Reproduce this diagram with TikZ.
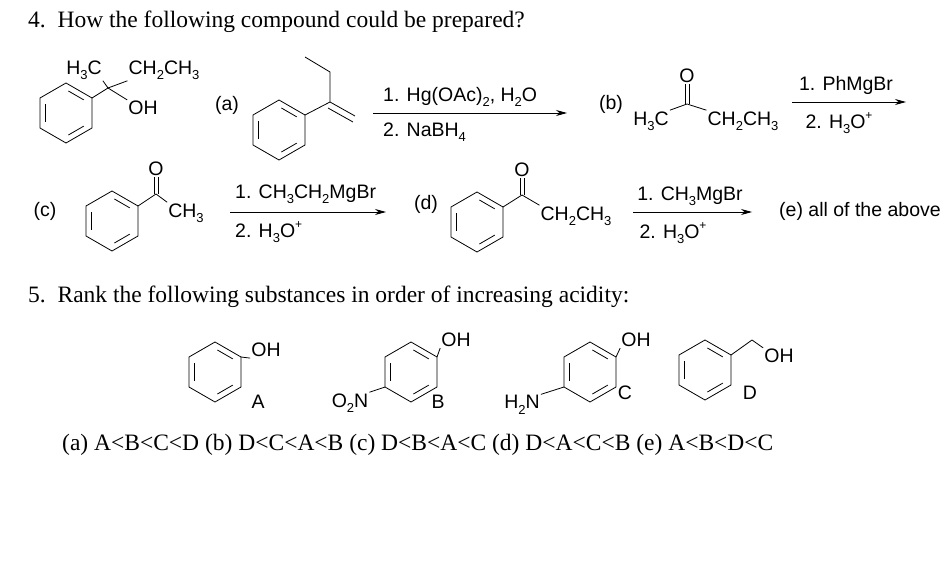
\documentclass[tikz,border=0pt]{standalone}
\usepackage{fontspec}
\setmainfont{Liberation Serif}
\newfontfamily\arial{Liberation Sans}
\usetikzlibrary{calc,arrows.meta}
\newcommand\sbs[1]{\raisebox{-0.28em}{\fontsize{13}{13}\selectfont #1}}
\newcommand\sps[1]{\raisebox{0.45em}{\fontsize{12}{12}\selectfont #1}}
\tikzset{
  bond/.style={line width=0.8pt},
  chem/.style={font=\arial\fontsize{19.5}{22}\selectfont, inner sep=1pt},
  ttl/.style={font=\fontsize{23.5}{26}\selectfont, anchor=west, inner sep=0pt},
  rxn/.style={line width=0.8pt,-{Stealth[length=11pt,width=6pt]}}
}
\newcommand\bz[3]{% name, x, y
  \coordinate (#1) at (#2,#3);
  \draw[bond] ($(#1)+(0,-30)$) -- ($(#1)+(26,-15)$) -- ($(#1)+(26,15)$) -- ($(#1)+(0,30)$) -- ($(#1)+(-26,15)$) -- ($(#1)+(-26,-15)$) -- cycle;
  \draw[bond] ($(#1)+(2.4,-22)$) -- ($(#1)+(17.8,-13.1)$);
  \draw[bond] ($(#1)+(17.8,13.1)$) -- ($(#1)+(2.4,22)$);
  \draw[bond] ($(#1)+(-20.3,8.9)$) -- ($(#1)+(-20.3,-8.9)$);
  \coordinate (#1ur) at ($(#1)+(26,-15)$);
  \coordinate (#1ll) at ($(#1)+(-26,15)$);
}
\begin{document}
\begin{tikzpicture}[x=1pt,y=-1pt]
\useasboundingbox (0,0) rectangle (952,577);
\fill[white] (0,0) rectangle (952,577);
\node[ttl] (t4) at (28,22) {4.\ \ How the following compound could be prepared?};
% target
\bz{r0}{66}{113}
\coordinate (q) at (108,88);
\node[chem] (h3c0) at (84,70) {H\sbs{3}C};
\node[chem] (et0) at (164,70) {CH\sbs{2}CH\sbs{3}};
\node[chem] (oh0) at (143,108) {OH};
\draw[bond] (r0ur) -- (q) -- (h3c0.south east);
\draw[bond] (q) -- (et0.south west);
\draw[bond] (q) -- (oh0.north west);
% (a)
\node[chem] (la) at (227,105) {(a)};
\bz{r1}{279}{130}
\coordinate (a1) at (330,102);
\coordinate (a2) at (330,72);
\coordinate (a3) at (305,57);
\draw[bond] (r1ur) -- (a1) -- (a2) -- (a3);
\draw[bond] (a1) -- (355,116);
\draw[bond] ($(a1)+(-2,6)$) -- ($(355,116)+(-2,6)$);
\coordinate (ar1s) at (373,113); \coordinate (ar1e) at (567,113);
\draw[rxn] (ar1s) -- (ar1e);
\node[chem,anchor=west] (ra1) at (382,97) {1. Hg(OAc)\sbs{2}, H\sbs{2}O};
\node[chem,anchor=west] (ra2) at (382,132) {2. NaBH\sbs{4}};
% (b)
\node[chem] (lb) at (611,104) {(b)};
\node[chem] (h3cb) at (651,121) {H\sbs{3}C};
\node[chem] (etb) at (743,121) {CH\sbs{2}CH\sbs{3}};
\node[chem] (ob) at (687,76) {O};
\coordinate (cb) at (687,104);
\draw[bond] (h3cb.north east) -- (cb) -- (etb.north west);
\draw[bond] ($(cb)+(-2,0)$) -- ($(ob.south)+(-2,0)$);
\draw[bond] ($(cb)+(2,0)$) -- ($(ob.south)+(2,0)$);
\coordinate (ar2s) at (792,102); \coordinate (ar2e) at (906,102);
\draw[rxn] (ar2s) -- (ar2e);
\node[chem] (rb1) at (846,85) {1. PhMgBr};
\node[chem] (rb2) at (839,123) {2. H\sbs{3}O\sps{+}};
% (c)
\node[chem] (lc) at (45,211) {(c)};
\bz{r2}{112}{221}
\coordinate (cc) at (156,194);
\node[chem] (oc) at (156,169) {O};
\node[chem] (mec) at (186,213) {CH\sbs{3}};
\draw[bond] (r2ur) -- (cc) -- (mec.north west);
\draw[bond] ($(cc)+(-2,0)$) -- ($(oc.south)+(-2,0)$);
\draw[bond] ($(cc)+(2,0)$) -- ($(oc.south)+(2,0)$);
\coordinate (ar3s) at (230,212); \coordinate (ar3e) at (386,212);
\draw[rxn] (ar3s) -- (ar3e);
\node[chem,anchor=west] (rc1) at (234,194) {1. CH\sbs{3}CH\sbs{2}MgBr};
\node[chem,anchor=west] (rc2) at (234,232) {2. H\sbs{3}O\sps{+}};
% (d)
\node[chem] (ld) at (426,204) {(d)};
\bz{r3}{477}{222}
\coordinate (cd) at (522,195);
\node[chem] (od) at (522,170) {O};
\node[chem] (etd) at (576,216) {CH\sbs{2}CH\sbs{3}};
\draw[bond] (r3ur) -- (cd) -- (etd.north west);
\draw[bond] ($(cd)+(-2,0)$) -- ($(od.south)+(-2,0)$);
\draw[bond] ($(cd)+(2,0)$) -- ($(od.south)+(2,0)$);
\coordinate (ar4s) at (633,212); \coordinate (ar4e) at (752,212);
\draw[rxn] (ar4s) -- (ar4e);
\node[chem] (rd1) at (690,196) {1. CH\sbs{3}MgBr};
\node[chem] (rd2) at (673,233) {2. H\sbs{3}O\sps{+}};
\node[chem,anchor=west] (le) at (778,211) {(e) all of the above};
% 5
\node[ttl] (t5) at (28,297) {5.\ \ Rank the following substances in order of increasing acidity:};
\bz{rA}{215}{372}
\node[chem] (ohA) at (266,350) {OH};
\draw[bond] (rAur) -- (ohA.south west);
\node[chem] (lA) at (258,402) {A};
\bz{rB}{411}{372}
\node[chem] (ohB) at (456,340) {OH};
\node[chem] (no2) at (350,403) {O\sbs{2}N};
\draw[bond] (rBur) -- (ohB.south west);
\draw[bond] (rBll) -- (no2.north east);
\node[chem] (lB) at (438,402) {B};
\bz{rC}{590}{372}
\node[chem] (ohC) at (636,340) {OH};
\node[chem] (nh2) at (522,405) {H\sbs{2}N};
\draw[bond] (rCur) -- (ohC.south west);
\draw[bond] (rCll) -- (nh2.north east);
\node[chem] (lC) at (625,393) {C};
\bz{rD}{705}{370}
\coordinate (dch) at (752,340);
\node[chem] (ohD) at (779,356) {OH};
\draw[bond] (rDur) -- (dch) -- (ohD.north west);
\node[chem] (lD) at (750,393) {D};
\node[ttl] (ans) at (62,445) {(a) A<B<C<D (b) D<C<A<B (c) D<B<A<C (d) D<A<C<B (e) A<B<D<C};
\end{tikzpicture}
\end{document}
